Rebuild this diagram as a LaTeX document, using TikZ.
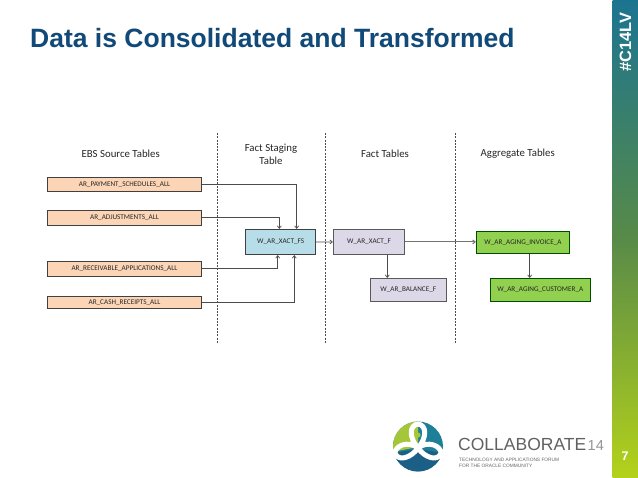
\documentclass[tikz,border=0pt]{standalone}
\usepackage{fontspec}
\setmainfont{Liberation Sans}
\newfontfamily\carl{Carlito}
\usetikzlibrary{arrows.meta,calc}
\definecolor{titleblue}{HTML}{114A78}
\definecolor{sideteal}{HTML}{1B7490}
\definecolor{sidegreen}{HTML}{B4D21A}
\definecolor{peach}{HTML}{FBD5B5}
\definecolor{ltblue}{HTML}{B7DEE8}
\definecolor{lilac}{HTML}{DDD8E8}
\definecolor{aggreen}{HTML}{92D050}
\definecolor{logoblue}{HTML}{1C5F86}
\definecolor{logoteal}{HTML}{1E7F98}
\definecolor{logolime}{HTML}{A6C63A}
\tikzset{
 tbl/.style={draw=#1,line width=0.8pt,minimum height=0pt,inner sep=0pt,font=\carl\fontsize{7.2}{8}\selectfont,text=black!85},
 hdr/.style={font=\carl\fontsize{10.8}{13}\selectfont,text=black!85,align=center,inner sep=0pt},
 conn/.style={draw=black!70,line width=0.7pt,-{Straight Barb[length=2.5pt,width=4pt]}},
 divider/.style={draw=black!70,line width=0.8pt,dash pattern=on 2pt off 1.3pt},
}
\begin{document}
\begin{tikzpicture}[x=1pt,y=-1pt]
\useasboundingbox (0,0) rectangle (638,478);
\fill[white] (0,0) rectangle (638,478);
% side bar
\shade[top color=sideteal,bottom color=sidegreen,middle color=sideteal!50!sidegreen!85!black] (612.5,0) rectangle (638,478);
\node[rotate=90,text=white,font=\bfseries\fontsize{16.4}{18}\selectfont,inner sep=0pt] (tag) at (625.5,42) {\#C14LV};
\node[text=white,font=\bfseries\fontsize{12.5}{14}\selectfont,inner sep=0pt] (pg) at (625,456) {7};
% title
\node[anchor=base west,text=titleblue,font=\bfseries\fontsize{26.5}{30}\selectfont,inner sep=0pt] (title) at (30,47.5) {Data is Consolidated and Transformed};
% dividers
\coordinate (d1a) at (217,133); \coordinate (d1b) at (217,343);
\coordinate (d2a) at (325.3,133); \coordinate (d2b) at (325.3,343);
\coordinate (d3a) at (455.7,133); \coordinate (d3b) at (455.7,343);
\draw[divider] (d1a)--(d1b);
\draw[divider] (d2a)--(d2b);
\draw[divider] (d3a)--(d3b);
% headers
\node[hdr] (h1) at (120.7,154) {EBS Source Tables};
\node[hdr] (h2) at (271,154.5) {Fact Staging\\Table};
\node[hdr] (h3) at (385,154) {Fact Tables};
\node[hdr] (h4) at (517.7,154) {Aggregate Tables};
% tables
\node[tbl=black!75,fill=peach,minimum width=154.4pt,minimum height=13.6pt] (a) at (124.5,184.5) {AR\_PAYMENT\_SCHEDULES\_ALL};
\node[tbl=black!75,fill=peach,minimum width=154.4pt,minimum height=15.7pt] (b) at (124.5,217.8) {AR\_ADJUSTMENTS\_ALL};
\node[tbl=black!75,fill=peach,minimum width=154.4pt,minimum height=15.7pt] (c) at (124.5,268.8) {AR\_RECEIVABLE\_APPLICATIONS\_ALL};
\node[tbl=black!75,fill=peach,minimum width=154.4pt,minimum height=12.4pt] (d) at (124.5,302.5) {AR\_CASH\_RECEIPTS\_ALL};
\node[tbl=black!75,fill=ltblue,minimum width=70pt,minimum height=25.4pt] (fs) at (280.7,242) {W\_AR\_XACT\_FS};
\node[tbl=black!65,fill=lilac,minimum width=71.4pt,minimum height=25.7pt] (f) at (369,241.9) {W\_AR\_XACT\_F};
\node[tbl=black!65,fill=lilac,minimum width=76pt,minimum height=22.7pt] (bal) at (408.3,289.7) {W\_AR\_BALANCE\_F};
\node[tbl=black!70!green,fill=aggreen,minimum width=93.4pt,minimum height=22pt] (inv) at (523,242.3) {W\_AR\_AGING\_INVOICE\_A};
\node[tbl=black!70!green,fill=aggreen,minimum width=100pt,minimum height=22.7pt] (cust) at (540.3,289.7) {W\_AR\_AGING\_CUSTOMER\_A};
% connectors
\draw[conn] (a.east) -| ($(fs.north)+(16,0)$);
\draw[conn] (b.east) -| ($(fs.north)+(-1.4,0)$);
\draw[conn] (c.east) -| ($(fs.south)+(-3,0)$);
\draw[conn] (d.east) -| ($(fs.south)+(13.6,0)$);
\draw[conn] (fs.east) -- (f.west);
\draw[conn,line width=1pt,draw=black!55] (f.east) -- (inv.west|-f.east);
\draw[conn] ($(f.south)+(18.3,0)$) -- ($(bal.north)+(-21,0)$);
\draw[conn] ($(inv.south)+(6.7,0)$) -- ($(cust.north)+(-10.6,0)$);
% logo
\begin{scope}
\clip (418,446.5) circle (25);
\fill[logoteal] (392,421) rectangle (444,472);
\fill[logolime] (392,421) -- (418,421) -- (418,447) -- (392,452) -- cycle;
\fill[logoblue] (392,453) -- (418,449) -- (444,453) -- (444,472) -- (392,472) -- cycle;
\end{scope}
\draw[white,line width=5pt,line cap=round,line join=round]
 (418,448) .. controls (409,438) and (409,425) .. (418,424)
 .. controls (427,425) and (427,438) .. (418,448)
 .. controls (428,440) and (441,446) .. (441,453)
 .. controls (438,462) and (425,458) .. (418,448)
 .. controls (411,458) and (398,462) .. (395,453)
 .. controls (395,446) and (408,440) .. (418,448);
\fill[logolime] (418,435) circle (2.6);
% wordmark
\node[anchor=base west,inner sep=0pt,text=black!62,font=\fontsize{17.5}{19}\selectfont] (cw) at (458,451) {COLLABORATE};
\node[anchor=base west,inner sep=0pt,text=black!42,font=\fontsize{14.5}{15}\selectfont] (cn) at (587.5,450.7) {14};
\node[anchor=base west,inner sep=0pt,text=black!60,font=\fontsize{4.8}{5}\selectfont] (s1) at (459,461.5) {TECHNOLOGY AND APPLICATIONS FORUM};
\node[anchor=base west,inner sep=0pt,text=black!60,font=\fontsize{4.8}{5}\selectfont] (s2) at (459,468) {FOR THE ORACLE COMMUNITY};
\end{tikzpicture}
\end{document}
